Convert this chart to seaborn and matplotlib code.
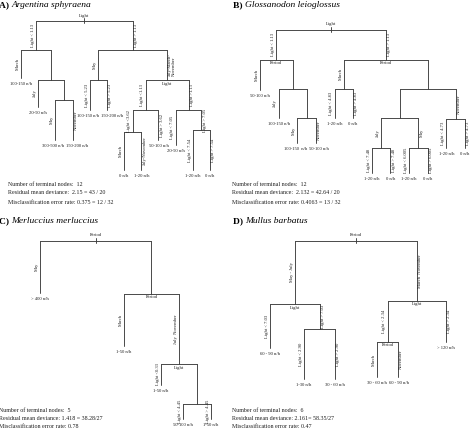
"""
Regression trees for four species (light, period -> catch rate class), drawn as dendrograms.
"""

import matplotlib.pyplot as plt
import numpy as np
import pandas as pd
import seaborn as sns

# ---------------------------------------------------------------------------
# Tree data. Node ids follow R's tree numbering: children of n are 2n and 2n+1.
# Lists are in pre-order (left branch first). *_split is the label written
# along the branch leading into the node, *_label is the node / leaf text and
# *_depth is the node height (drop from the panel top, deviance scale).
# ---------------------------------------------------------------------------
A_title = ["A)", "Argentina sphyraena"]
A_id = [1, 2, 4, 5, 10, 11, 22, 23, 3, 6, 12, 13, 7, 14, 28, 56, 57, 29, 15, 30, 31, 62, 63]
A_split = ["", "Light < 1.13", "March", "", "July", "", "May", "November",
           "Light > 1.13", "May", "Light < 5.23", "Light > 5.23", "July-March-\nNovember",
           "Light <1.13", "Light <3.62", "March", "July-November", "Light > 3.62",
           "Light >1.13", "Light < 7.05", "Light > 7.05", "Light < 7.54", "Light > 7.54"]
A_label = ["Light", "", "100-150 n/h", "", "20-50 n/h", "", "300-500 n/h", "150-200 n/h",
           "", "", "100-150 n/h", "150-200 n/h", "Light",
           "", "", "0 n/h", "1-20 n/h", "50-100 n/h",
           "", "20-50 n/h", "", "1-20 n/h", "0 n/h"]
A_depth = [21, 50, 78, 80, 107, 100, 140, 140, 50, 80, 110, 110, 80,
           110, 132, 170, 170, 140, 110, 145, 130, 170, 170]
A_stats = ["Number of terminal nodes:  12",
           "Residual mean deviance:  2.15 = 43 / 20",
           "Misclassification error rate: 0.375 = 12 / 32"]

B_title = ["B)", "Glossanodon leioglossus"]
B_id = [1, 2, 4, 5, 10, 11, 22, 23, 3, 6, 12, 13, 7, 14, 28, 56, 57, 29, 58, 59, 15, 30, 31]
B_split = ["", "Light < 1.13", "March", "", "July", "", "May", "November",
           "Light > 1.13", "March", "Light < 4.83", "Light > 4.83", "",
           "", "July", "Light < 7.48", "Light > 7.48", "May", "Light < 6.005", "Light > 6.005",
           "November", "Light < 4.73", "Light > 4.73"]
B_label = ["Light", "Period", "50-100 n/h", "", "100-150 n/h", "", "100-150  n/h", "50-100 n/h",
           "Period", "", "1-20 n/h", "0 n/h", "",
           "", "", "1-20 n/h", "0 n/h", "", "1-20 n/h", "0 n/h",
           "", "1-20 n/h", "0 n/h"]
B_depth = [30, 60, 90, 89, 118, 118, 143, 143, 60, 89, 118, 118, 89,
           118, 148, 173, 173, 148, 173, 173, 119, 148, 148]
B_stats = ["Number of terminal nodes:  12",
           "Residual mean deviance:  2.132 = 42.64 / 20",
           "Misclassification error rate: 0.4063 = 13 / 32"]

C_title = ["C)", "Merluccius merluccius"]
C_id = [1, 2, 3, 6, 7, 14, 15, 30, 31]
C_split = ["", "May", "", "March", "July  November", "Light <0.33", "", "Light < 4.45", "Light > 4.45"]
C_label = ["Period", "> 400 n/h", "Period", "1-50 n/h", "Light", "1-50 n/h", "", "50-100 n/h", "1-50 n/h"]
C_depth = [24, 76, 77, 129, 147, 168, 187, 202, 202]
C_stats = ["Number of terminal nodes:  5",
           "Residual mean deviance: 1.418 = 38.28/27",
           "Misclassification error rate: 0.78"]

D_title = ["D)", "Mullus barbatus"]
D_id = [1, 2, 4, 5, 10, 11, 3, 6, 12, 13, 7]
D_split = ["", "May - July", "Light < 7.03", "Light > 7.03", "Light < 2.90", "Light > 2.90",
           "March  November", "Light < 2.34", "March", "November", "Light > 2.34"]
D_label = ["Period", "Light", "60 - 90 n/h", "", "1-30 n/h", "30 - 60 n/h",
           "Light", "Period", "30 - 60 n/h", "60 - 90 n/h", "> 120 n/h"]
D_depth = [24, 87, 131, 112, 162, 162, 84, 125, 160, 160, 125]
D_stats = ["Number of terminal nodes:  6",
           "Residual mean deviance: 2.161= 58.35/27",
           "Misclassification error rate: 0.47"]

# ---------------------------------------------------------------------------
# Layout (panel-local pixel units, 237 x 217 per panel)
# ---------------------------------------------------------------------------
PANEL_W, PANEL_H = 237, 217
LINE = "#3c3c3c"
INK = "#1e1e1e"
FS_SMALL = 3.3
FS_STATS = 4.3
FS_TITLE = 6.8

panels = [
    dict(title=A_title, ids=A_id, split=A_split, label=A_label, depth=A_depth, stats=A_stats,
         rect=[0.0, 0.5, 0.5, 0.5], leaf_x=np.linspace(21, 210, 12), all_left=False,
         title_xy=(-1, 5), stats_xy=(8, 184), stats_gap=9),
    dict(title=B_title, ids=B_id, split=B_split, label=B_label, depth=B_depth, stats=B_stats,
         rect=[0.5, 0.5, 0.5, 0.5], leaf_x=np.linspace(23, 228, 12), all_left=False,
         title_xy=(-4, 5), stats_xy=(-5, 184), stats_gap=9),
    dict(title=C_title, ids=C_id, split=C_split, label=C_label, depth=C_depth, stats=C_stats,
         rect=[0.0, 0.0, 0.5, 0.5], leaf_x=[40, 124, 161, 183, 211], all_left=True,
         title_xy=(-1, 4), stats_xy=(-1, 193), stats_gap=8.5),
    dict(title=D_title, ids=D_id, split=D_split, label=D_label, depth=D_depth, stats=D_stats,
         rect=[0.5, 0.0, 0.5, 0.5], leaf_x=[33, 67, 98, 140, 161, 209], all_left=False,
         title_xy=(-4, 4), stats_xy=(-5, 193), stats_gap=8.5),
]

sns.set_theme(style="white")
plt.rcParams["font.family"] = ["Liberation Serif", "DejaVu Serif"]

fig = plt.figure(figsize=(4.74, 4.34), dpi=100)
renderer = fig.canvas.get_renderer()


def draw_tree(ax, p):
    ids, depth = p["ids"], p["depth"]
    pos = {n: i for i, n in enumerate(ids)}
    kids = {n: (2 * n, 2 * n + 1) for n in ids if 2 * n in pos}
    leaves = [n for n in ids if n not in kids]
    xs = dict(zip(leaves, p["leaf_x"]))
    for n in sorted(kids, reverse=True):
        xs[n] = (xs[2 * n] + xs[2 * n + 1]) / 2
    dep = dict(zip(ids, depth))

    # segments: one bar per split and one drop per child
    rows, seg = [], 0
    for n, (l, r) in kids.items():
        rows += [(seg, xs[l], dep[n]), (seg, xs[r], dep[n])]
        seg += 1
        for c in (l, r):
            rows += [(seg, xs[c], dep[n]), (seg, xs[c], dep[c])]
            seg += 1
    root = ids[0]
    rows += [(seg, xs[root], dep[root] - 3.5), (seg, xs[root], dep[root] + 1.5)]
    seg_df = pd.DataFrame(rows, columns=["seg", "x", "depth"])
    sns.lineplot(data=seg_df, x="x", y="depth", units="seg", estimator=None, sort=False,
                 color=LINE, lw=0.65, ax=ax, legend=False)

    leaf_txt = []
    for n in ids:
        i = pos[n]
        if p["split"][i]:
            parent = n // 2
            y = dep[n] - 0.5 * (dep[n] - dep[parent])
            left = p["all_left"] or n % 2 == 0
            ax.text(xs[n] + (-1.2 if left else 1.2), y, p["split"][i], rotation=90,
                    ha="right" if left else "left", va="center", fontsize=FS_SMALL,
                    color=INK, linespacing=0.95, clip_on=False)
        text = p["label"][i]
        if not text:
            continue
        if n in kids:
            if n == root:
                ax.text(xs[n], dep[n] - 3.5, text, ha="center", va="bottom",
                        fontsize=FS_SMALL, color=INK)
            else:
                ax.text(xs[n], dep[n] + 1.5, text, ha="center", va="top",
                        fontsize=FS_SMALL, color=INK)
        else:
            t = ax.text(xs[n], dep[n] + 6, text, ha="center", va="center",
                        fontsize=FS_SMALL, color=INK, clip_on=False)
            leaf_txt.append([xs[n], dep[n], t])

    # push apart leaf labels sitting on the same row (mostly the right one)
    leaf_txt.sort(key=lambda e: e[0])
    for a, b in zip(leaf_txt[:-1], leaf_txt[1:]):
        if abs(a[1] - b[1]) > 3:
            continue
        wa = a[2].get_window_extent(renderer).width
        wb = b[2].get_window_extent(renderer).width
        overlap = (a[0] + wa / 2 + 2) - (b[0] - wb / 2)
        if overlap > 0:
            a[0] -= overlap * 0.3
            b[0] += overlap * 0.7
            a[2].set_x(a[0])
            b[2].set_x(b[0])


for p in panels:
    ax = fig.add_axes(p["rect"])
    draw_tree(ax, p)
    ax.set_xlim(0, PANEL_W)
    ax.set_ylim(PANEL_H, 0)
    ax.set_axis_off()

    tx, ty = p["title_xy"]
    t = ax.text(tx, ty, p["title"][0] + " ", fontweight="bold", fontsize=FS_TITLE,
                va="center", ha="left", color="black", clip_on=False)
    ax.annotate(p["title"][1], xy=(1, 0), xycoords=t, va="bottom", ha="left",
                fontstyle="italic", fontsize=FS_TITLE, color="black")

    sx, sy = p["stats_xy"]
    for k, line in enumerate(p["stats"]):
        ax.text(sx, sy + p["stats_gap"] * k, line, fontsize=FS_STATS, va="center",
                ha="left", color=INK, clip_on=False)

fig.savefig("out.png", dpi=100)
